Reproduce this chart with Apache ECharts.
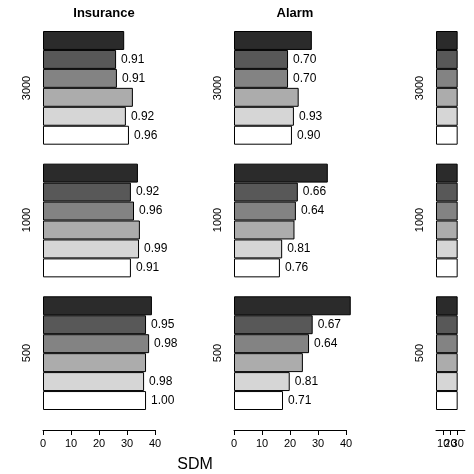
<!DOCTYPE html>
<html>
<head>
<meta charset="UTF-8">
<script src="https://cdn.jsdelivr.net/npm/echarts@6/dist/echarts.min.js"></script>
<style>body{margin:0;background:#fff}#box{width:474px;height:474px}</style>
</head>
<body>
<div id="box"></div>
<script>
var panels = ['Insurance', 'Alarm', 'Hepar2'];
var groups = ['3000', '1000', '500'];
var shades = ['#2b2b2b', '#585858', '#838383', '#acacac', '#d6d6d6', '#ffffff'];
// values per panel, groups 3000 / 1000 / 500 top to bottom
var values = [
    [[29.0, 26.1, 26.4, 32.1, 29.6, 30.7], [33.9, 31.4, 32.5, 34.6, 34.3, 31.4], [38.9, 36.8, 37.9, 36.8, 36.1, 36.8]],
    [[27.8, 19.3, 19.3, 23.1, 21.4, 20.7], [33.5, 22.8, 22.1, 21.6, 17.2, 16.4], [41.7, 28.1, 26.8, 24.6, 19.9, 17.5]],
    [[30, 30, 30, 30, 30, 30], [30, 30, 30, 30, 30, 30], [30, 30, 30, 30, 30, 30]]
];
var labels = [
    [['', '0.91', '0.91', '', '0.92', '0.96'], ['', '0.92', '0.96', '', '0.99', '0.91'], ['', '0.95', '0.98', '', '0.98', '1.00']],
    [['', '0.70', '0.70', '', '0.93', '0.90'], ['', '0.66', '0.64', '', '0.81', '0.76'], ['', '0.67', '0.64', '', '0.81', '0.71']],
    [['', '', '', '', '', ''], ['', '', '', '', '', ''], ['', '', '', '', '', '']]
];
var ticks = [0, 10, 20, 30, 40];

var lefts = [43, 234, 436];
var grid = [], xAxis = [], yAxis = [], series = [], title = [], graphic = [];
var cats = [];
for (var c = 0; c < 20; c++) cats.push('c' + c);

for (var p = 0; p < 3; p++) {
    grid.push({ left: lefts[p], right: 474 - lefts[p] - 112, top: 31, bottom: 64 });
    xAxis.push({
        gridIndex: p, type: 'value', min: ticks[0], max: ticks[ticks.length - 1], interval: 10,
        offset: 20, splitLine: { show: false },
        axisLine: { show: true, lineStyle: { color: '#000' } },
        axisTick: { show: true, length: 5, lineStyle: { color: '#000' } },
        axisLabel: { color: '#000', fontSize: 11, margin: 8 }
    });
    yAxis.push({ gridIndex: p, type: 'category', data: cats, inverse: true, show: false });
    var data = [];
    for (var g = 0; g < 3; g++) {
        for (var i = 0; i < 6; i++) {
            data.push({
                value: values[p][g][i],
                itemStyle: { color: shades[i] },
                label: { formatter: labels[p][g][i] }
            });
        }
        if (g < 2) data.push('-');
    }
    series.push({
        type: 'bar', xAxisIndex: p, yAxisIndex: p, data: data, barWidth: '100%', clip: false,
        itemStyle: { borderColor: '#000', borderWidth: 1 },
        label: { show: true, position: 'right', color: '#000', fontSize: 12, distance: 5 }
    });
    title.push({
        text: panels[p], left: lefts[p] + 56, top: 2, textAlign: 'center',
        textStyle: { fontSize: 13, fontWeight: 'bold', color: '#000' }
    });
    var ys = [88, 220, 353];
    for (var g2 = 0; g2 < 3; g2++) {
        graphic.push({
            type: 'text', x: lefts[p] - 16, y: ys[g2], rotation: Math.PI / 2,
            style: { text: groups[g2], fill: '#000', fontSize: 11, align: 'center', verticalAlign: 'middle' }
        });
    }
}
graphic.push({ type: 'text', x: 195, y: 465, style: { text: 'SDM', fill: '#000', fontSize: 16, align: 'center', verticalAlign: 'middle' } });

var myChart = echarts.init(document.getElementById('box'));
myChart.setOption({
    animation: false,
    textStyle: { fontFamily: 'Liberation Sans, Arial, sans-serif' },
    title: title, grid: grid, xAxis: xAxis, yAxis: yAxis, series: series, graphic: graphic
});
</script>
</body>
</html>
